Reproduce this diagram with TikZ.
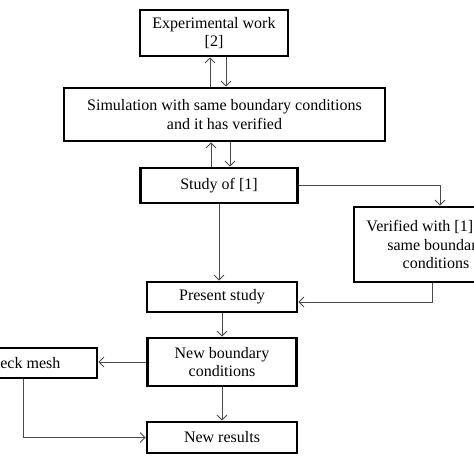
\documentclass[tikz,border=0pt]{standalone}
\usepackage{fontspec}
\setmainfont{Liberation Serif}
\usepackage{xcolor}
\definecolor{boxline}{HTML}{000000}
\definecolor{flowline}{HTML}{4A4A4A}
\usepackage{tikz}
\usetikzlibrary{arrows.meta, positioning, calc}

\begin{document}
\begin{tikzpicture}[
    x=1pt, y=-1pt,
    font=\fontsize{16}{18.5}\selectfont,
    box/.style={draw=boxline, line width=2.6pt, align=center, inner sep=0pt, fill=white},
    flow/.style={draw=flowline, line width=0.9pt, -{Straight Barb[length=5pt, width=10pt, line width=0.9pt]}}
]

% ── Frame ──
\useasboundingbox (0,0) rectangle (474,474);
\clip (0,0) rectangle (474,474);

% ── Main column ──
\node[box, minimum width=148pt, minimum height=46pt] (exp) at (214,33) {Experimental work\\{[2]}};
\node[box, minimum width=321pt, minimum height=53pt] (sim) at (224.5,114.5) {Simulation with same boundary conditions\\and it has verified};
\node[box, minimum width=157pt, minimum height=35pt] (study) at (219,185.5) {Study of [1]};
\node[box, minimum width=150pt, minimum height=30pt] (present) at (222,297) {Present study};
\node[box, minimum width=149pt, minimum height=48pt] (newbc) at (222,362) {New boundary\\conditions};
\node[box, minimum width=150pt, minimum height=31pt] (newres) at (222,437.5) {New results};

% ── Side boxes ──
\node[box, minimum width=164pt, minimum height=75pt] (verified) at (436,244.5) {Verified with [1] with\\same boundary\\conditions};
\node[box, minimum width=152pt, minimum height=30pt] (check) at (21,363) {Check mesh};

% ── Arrows ──
\draw[flow] ([xshift=-14.5pt]sim.north) -- ([xshift=-4pt]exp.south);
\draw[flow] ([xshift=12pt]exp.south) -- ([xshift=1.5pt]sim.north);
\draw[flow] ([xshift=-8pt]study.north) -- ([xshift=-13.5pt]sim.south);
\draw[flow] ([xshift=5.5pt]sim.south) -- ([xshift=11pt]study.north);
\draw[flow] (study.east) -| ([xshift=4pt]verified.north);
\draw[flow] ([xshift=-4pt]verified.south) |- ([yshift=-5pt]present.east);
\draw[flow] (study.south) -- (study.south |- present.north);
\draw[flow] (present.south) -- (newbc.north);
\draw[flow] (newbc.west) -- (newbc.west -| check.east);
\draw[flow] ([xshift=2pt]check.south) |- (newres.west);
\draw[flow] (newbc.south) -- (newres.north);
\end{tikzpicture}
\end{document}
